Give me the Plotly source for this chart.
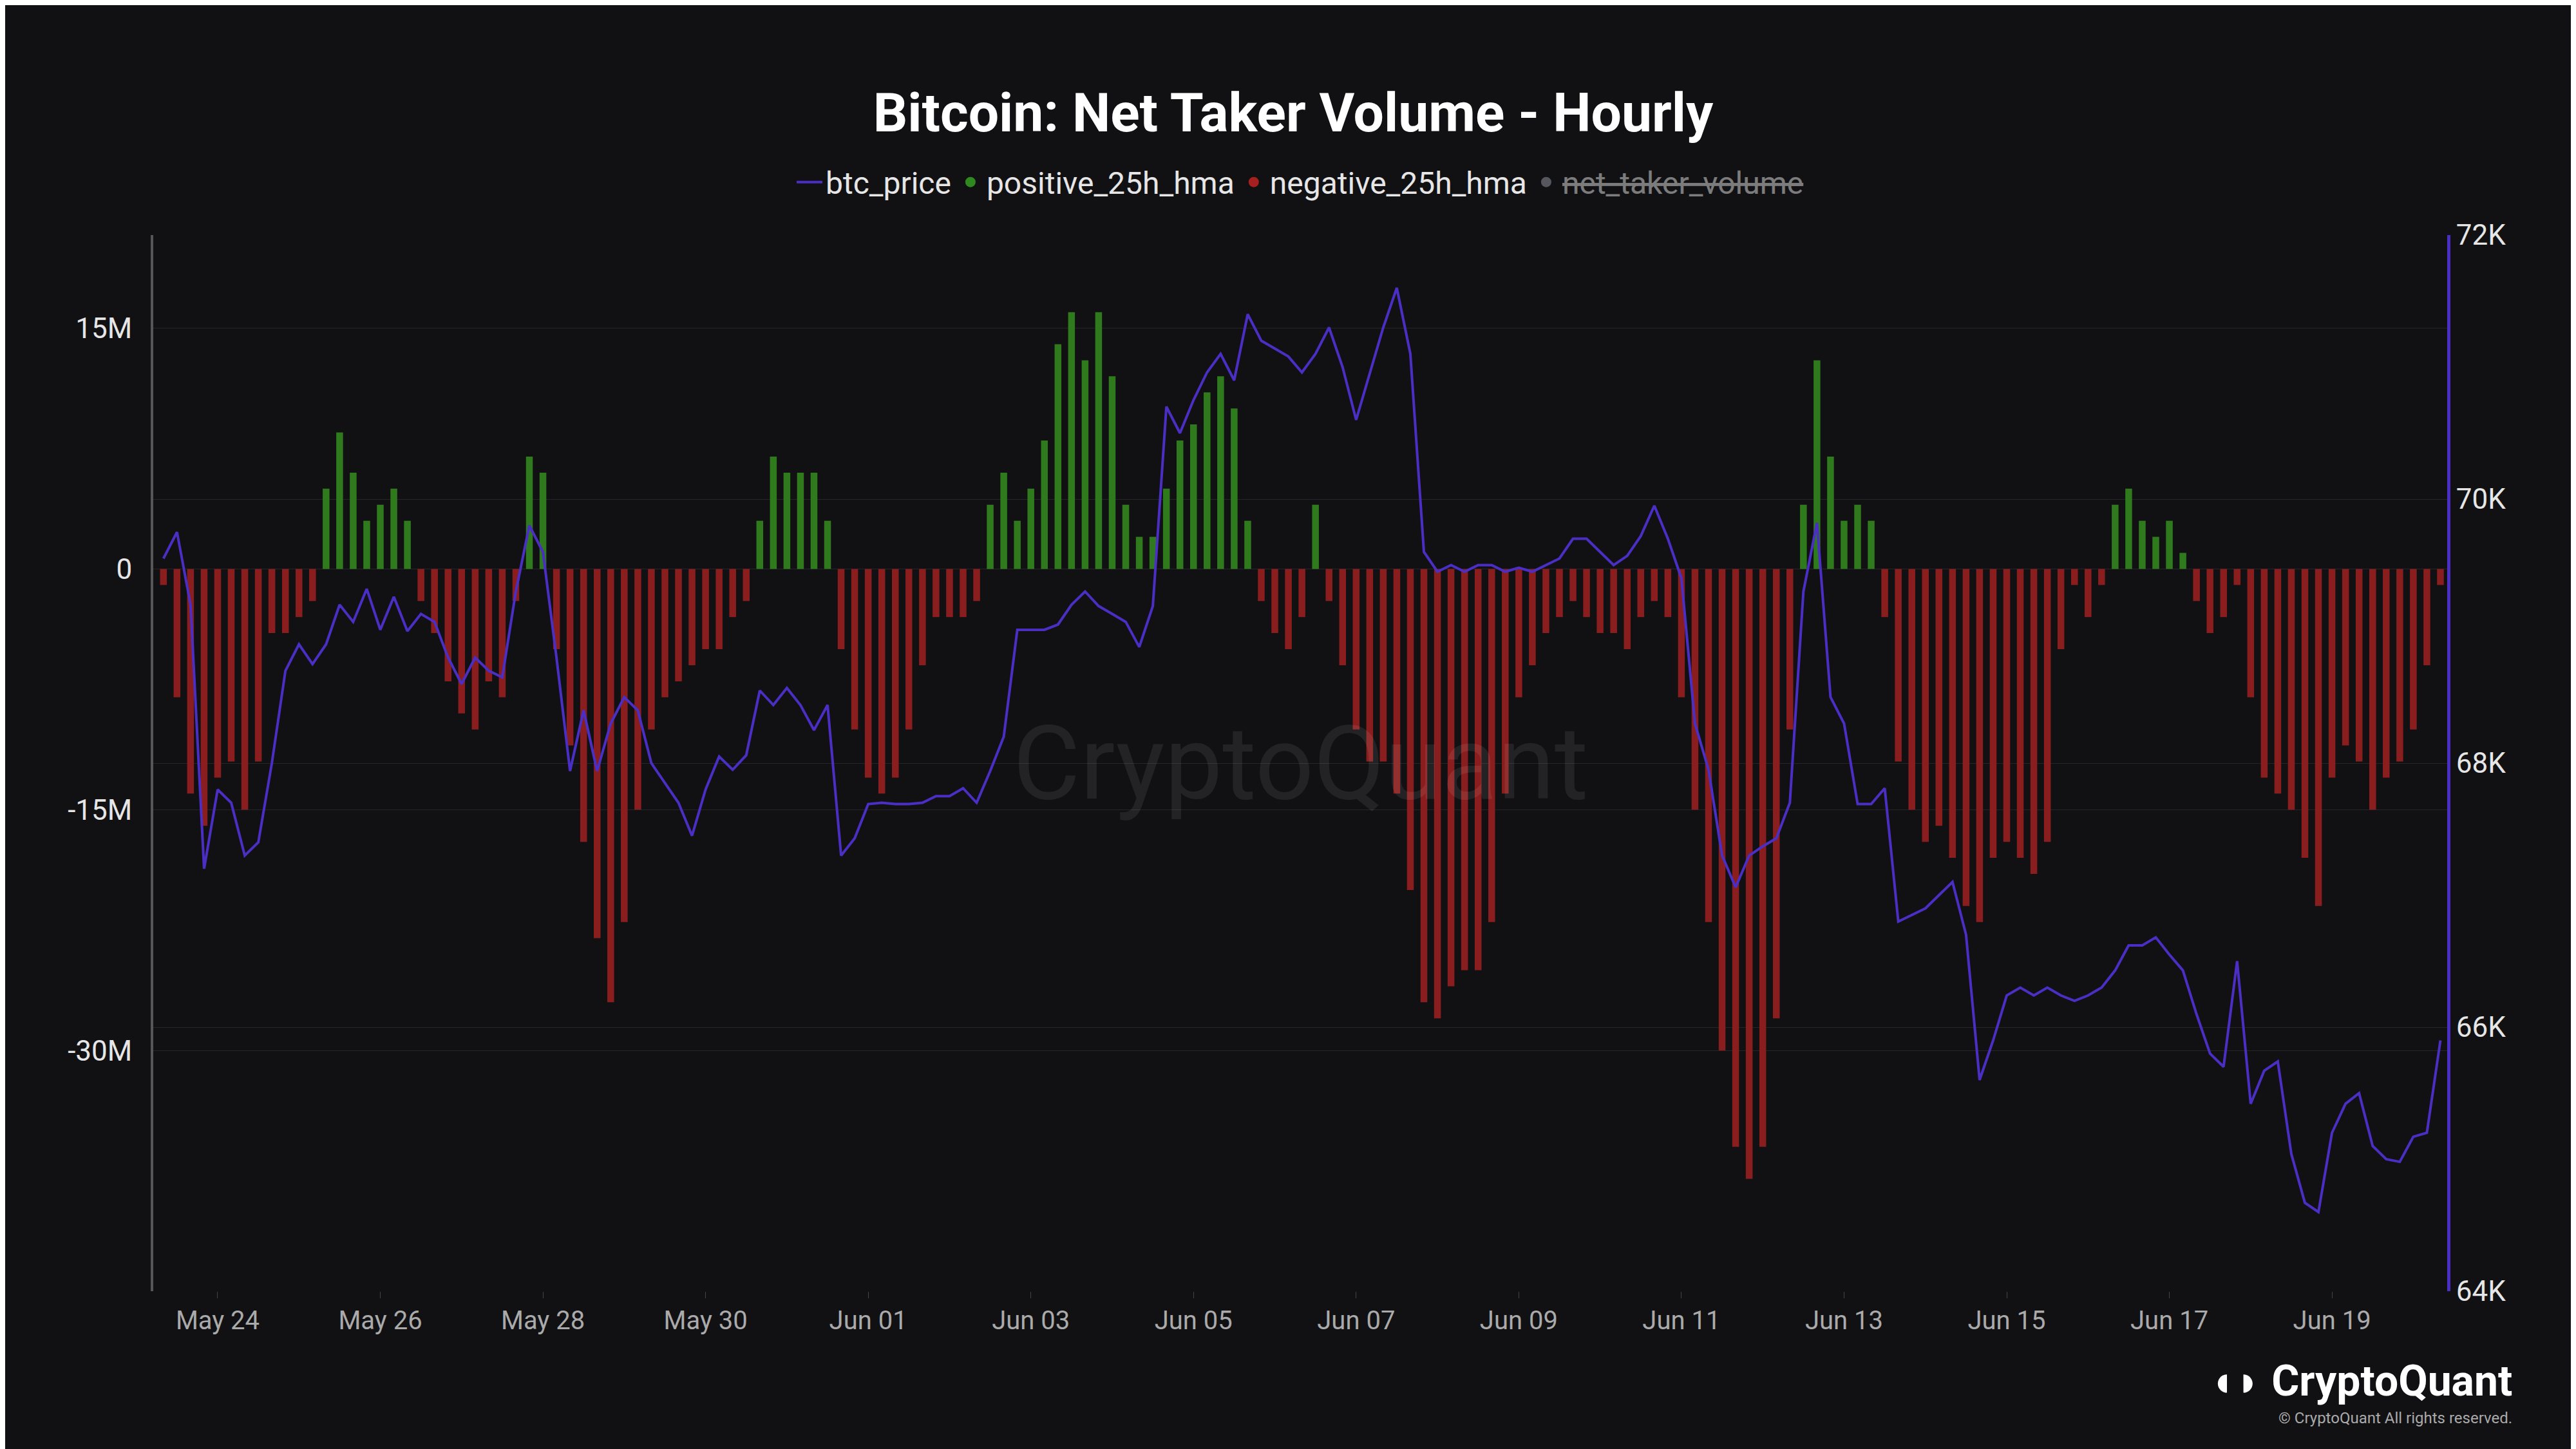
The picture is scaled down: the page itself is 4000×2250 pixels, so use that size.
import plotly.graph_objects as go
import pandas as pd

start = "2024-05-23 08:00"
net_taker_volume_m = [
 -1,-8,-14,-16,-13,-12,-15,-12,-4,-4,-3,-2,5,8.5,6,3,4,5,3,-2,
 -4,-7,-9,-10,-7,-8,-2,7,6,-5,-11,-17,-23,-27,-22,-15,-10,-8,-7,-6,
 -5,-5,-3,-2,3,7,6,6,6,3,-5,-10,-13,-14,-13,-10,-6,-3,-3,-3,
 -2,4,6,3,5,8,14,16,13,16,12,4,2,2,5,8,9,11,12,10,
 3,-2,-4,-5,-3,4,-2,-6,-10,-12,-12,-14,-20,-27,-28,-26,-25,-25,-22,-14,
 -8,-6,-4,-3,-2,-3,-4,-4,-5,-3,-2,-3,-8,-15,-22,-30,-36,-38,-36,-28,
 -10,4,13,7,3,4,3,-3,-12,-15,-17,-16,-18,-21,-22,-18,-17,-18,-19,-17,
 -5,-1,-3,-1,4,5,3,2,3,1,-2,-4,-3,-1,-8,-13,-14,-15,-18,-21,
 -13,-11,-12,-15,-13,-12,-10,-6,-1]
btc_price_k = [
 69.55,69.75,69.2,67.2,67.8,67.7,67.3,67.4,68.0,68.7,68.9,68.75,68.9,69.2,69.07,69.32,69.01,69.26,69.0,69.13,
 69.07,68.8,68.6,68.8,68.7,68.65,69.3,69.8,69.6,68.8,67.94,68.4,67.94,68.3,68.5,68.4,68.0,67.85,67.7,67.45,
 67.8,68.05,67.95,68.06,68.55,68.44,68.57,68.44,68.25,68.44,67.3,67.43,67.69,67.7,67.69,67.69,67.7,67.75,67.75,67.81,
 67.7,67.94,68.2,69.01,69.01,69.01,69.05,69.2,69.3,69.19,69.13,69.07,68.88,69.19,70.7,70.5,70.75,70.96,71.1,70.9,
 71.4,71.2,71.14,71.08,70.96,71.1,71.3,71.0,70.6,70.95,71.3,71.6,71.1,69.6,69.45,69.5,69.45,69.5,69.5,69.45,
 69.48,69.45,69.5,69.55,69.7,69.7,69.6,69.5,69.57,69.72,69.95,69.7,69.4,68.3,67.95,67.3,67.06,67.3,67.37,67.43,
 67.7,69.3,69.82,68.5,68.3,67.69,67.69,67.81,66.8,66.85,66.9,67.0,67.1,66.7,65.6,65.9,66.24,66.3,66.24,66.3,
 66.24,66.2,66.24,66.3,66.43,66.62,66.62,66.68,66.55,66.43,66.1,65.8,65.7,66.5,65.42,65.67,65.74,65.04,64.67,64.6,
 65.2,65.42,65.5,65.1,65.0,64.98,65.17,65.2,65.9]
x_ticks = ["2024-05-24","2024-05-26","2024-05-28","2024-05-30","2024-06-01","2024-06-03","2024-06-05",
           "2024-06-07","2024-06-09","2024-06-11","2024-06-13","2024-06-15","2024-06-17","2024-06-19"]
y_left_ticks = [15e6, 0, -15e6, -30e6]
y_left_text = ["15M", "0", "-15M", "-30M"]
y_right_ticks = [64000, 66000, 68000, 70000, 72000]
y_right_text = ["64K", "66K", "68K", "70K", "72K"]

times = pd.date_range(start, periods=len(net_taker_volume_m), freq="4h")
vol = [v * 1e6 for v in net_taker_volume_m]
pos = [v if v > 0 else None for v in vol]
neg = [v if v < 0 else None for v in vol]
price = [p * 1000 for p in btc_price_k]

GREEN_BAR = "#2f7a1c"; RED_BAR = "#8a1e1e"; PURPLE = "#4b2fc4"
FONT = "Roboto"
fig = go.Figure()
fig.add_trace(go.Bar(x=times, y=pos, marker=dict(color=GREEN_BAR, line_width=0), showlegend=False, yaxis="y"))
fig.add_trace(go.Bar(x=times, y=neg, marker=dict(color=RED_BAR, line_width=0), showlegend=False, yaxis="y"))
fig.add_trace(go.Scatter(x=times, y=price, mode="lines", line=dict(color=PURPLE, width=4), name="btc_price", yaxis="y2"))
fig.add_trace(go.Scatter(x=[None], y=[None], mode="markers", marker=dict(color="#2e8a1e", size=40), name="positive_25h_hma"))
fig.add_trace(go.Scatter(x=[None], y=[None], mode="markers", marker=dict(color="#a81f1f", size=40), name="negative_25h_hma"))
fig.add_trace(go.Scatter(x=[None], y=[None], mode="markers", marker=dict(color="#9a9aa8", size=40),
                         name="<s>net_taker_volume</s>", visible="legendonly"))

fig.update_layout(
    width=4000, height=2250, paper_bgcolor="#111114", plot_bgcolor="#111114",
    font=dict(family=FONT, color="#e6e6e6", size=44),
    title=dict(text="<b>Bitcoin: Net Taker Volume - Hourly</b>", x=0.5, y=0.926, yanchor="middle", xanchor="center",
               font=dict(size=84, color="#ffffff")),
    legend=dict(orientation="h", x=0.5, xanchor="center", y=1.05, yanchor="middle",
                font=dict(size=48, color="#e6e6e6"), itemwidth=40),
    margin=dict(l=230, r=208, t=357, b=253),
    barmode="overlay", bargap=0.5,
    xaxis=dict(type="date", range=["2024-05-23 05:00", "2024-06-20 10:00"], tickvals=x_ticks, tickformat="%b %d",
               showgrid=False, tickfont=dict(size=40, color="#aaaaaa"), ticks="outside", ticklen=10, tickcolor="#444",
               showline=False, zeroline=False),
    yaxis=dict(range=[-45e6, 20.8e6], tickvals=y_left_ticks, ticktext=y_left_text, showgrid=True, gridcolor="#26262a",
               zeroline=False, showline=True, linecolor="#55555a", linewidth=4, tickfont=dict(size=44, color="#e6e6e6"),
               ticklen=20, ticks="outside", tickcolor="#111114"),
    yaxis2=dict(range=[64000, 72000], tickvals=y_right_ticks, ticktext=y_right_text, overlaying="y", side="right",
                showgrid=True, gridcolor="#26262a", zeroline=False, showline=True, linecolor=PURPLE, linewidth=5,
                tickfont=dict(size=44, color="#e6e6e6")),
    annotations=[
        dict(text="CryptoQuant", x=0.5, y=0.5, xref="paper", yref="paper", showarrow=False,
             font=dict(size=160, color="rgba(255,255,255,0.08)", family=FONT)),
        dict(text="<b>◖◗ CryptoQuant</b>", x=1.029, y=-0.085, xref="paper", yref="paper", xanchor="right",
             yanchor="middle", showarrow=False, font=dict(size=66, color="#ffffff", family=FONT)),
        dict(text="© CryptoQuant All rights reserved.", x=1.029, y=-0.12, xref="paper", yref="paper", xanchor="right",
             yanchor="middle", showarrow=False, font=dict(size=24, color="#aaaaaa")),
    ],
)
fig.write_html("out.html")
